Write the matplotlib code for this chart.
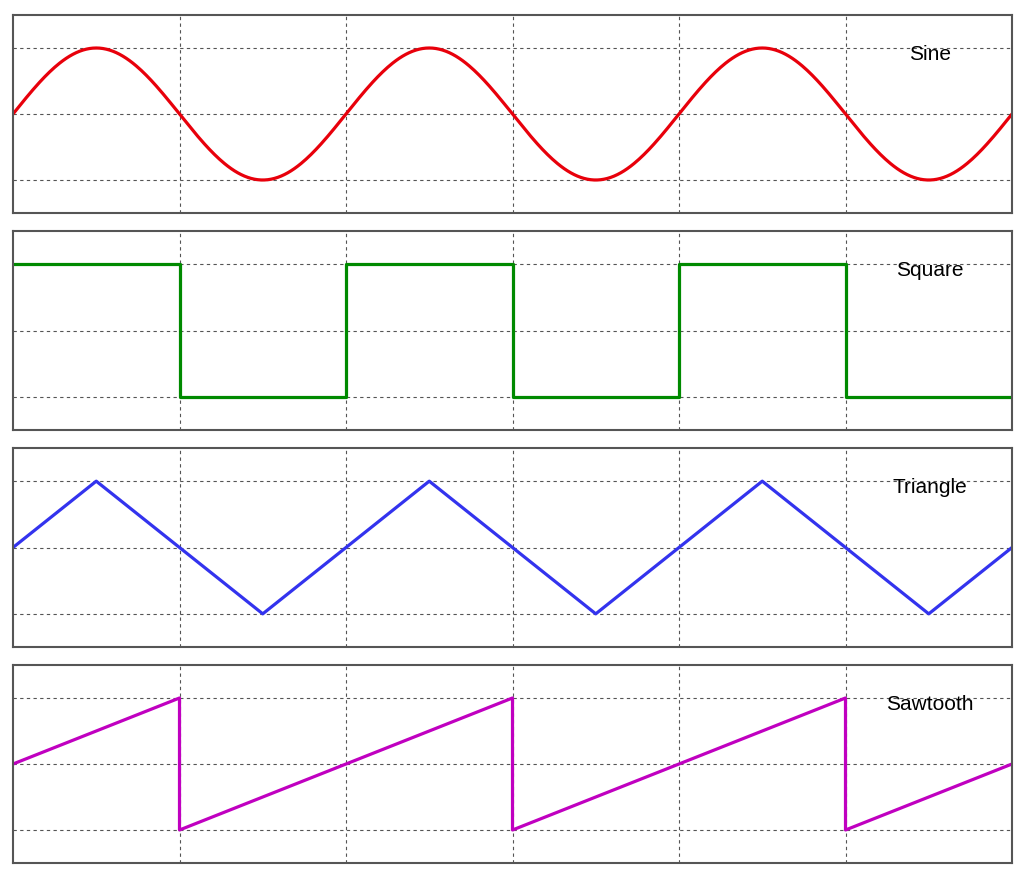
import numpy as np
import matplotlib
matplotlib.use("Agg")
import matplotlib.pyplot as plt

titles = ["Sine", "Square", "Triangle", "Sawtooth"]
colors = ["#e8000b", "#008a00", "#3333ee", "#c000c0"]

# sine: period 2, amplitude 1
sine_x = np.linspace(0, 6, 601)
sine_y = np.sin(np.pi * sine_x)

square_x = [0, 1, 1, 2, 2, 3, 3, 4, 4, 5, 5, 6]
square_y = [1, 1, -1, -1, 1, 1, -1, -1, 1, 1, -1, -1]

tri_x = [0, 0.5, 1.5, 2.5, 3.5, 4.5, 5.5, 6]
tri_y = [0, 1, -1, 1, -1, 1, -1, 0]

saw_x = [0, 1, 1, 3, 3, 5, 5, 6]
saw_y = [0, 1, -1, 1, -1, 1, -1, 0]

series = [(sine_x, sine_y), (square_x, square_y), (tri_x, tri_y), (saw_x, saw_y)]

fig = plt.figure(figsize=(10.24, 8.75), dpi=100)
H = 875.0
tops = [15, 231, 448, 665]
heights = [198, 199, 199, 198]
for i, (t, c, (x, y)) in enumerate(zip(titles, colors, series)):
    ax = fig.add_axes([13/1024, 1 - (tops[i] + heights[i]) / H, 999/1024, heights[i] / H])
    ax.plot(x, y, color=c, lw=2.3)
    ax.set_xlim(0, 6)
    ax.set_ylim(-1.5, 1.5)
    ax.set_xticks([1, 2, 3, 4, 5])
    ax.set_yticks([-1, 0, 1])
    ax.tick_params(length=0, labelbottom=False, labelleft=False)
    ax.grid(True, color="#555555", ls=(0, (3, 3)), lw=0.8)
    for s in ax.spines.values():
        s.set_color("#555555")
        s.set_linewidth(1.5)
    ax.text(0.918, 0.80, t, transform=ax.transAxes, ha="center", va="center",
            fontsize=15, family="Liberation Sans")
fig.savefig("out.png", dpi=100)
